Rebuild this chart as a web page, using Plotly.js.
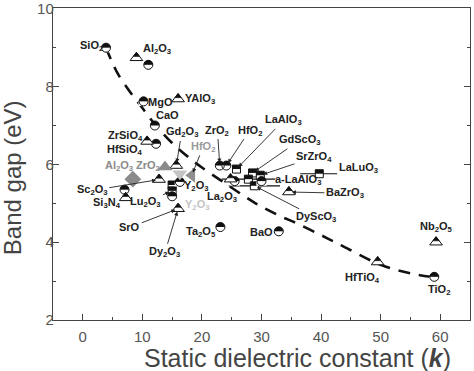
<!DOCTYPE html>
<html><head><meta charset="utf-8">
<script src="https://cdn.plot.ly/plotly-3.0.1.min.js"></script>
<style>html,body{margin:0;padding:0;background:#fff}#chart{width:474px;height:371px}</style>
</head><body><div id="chart"></div>
<script>
// Dashed guide curve
const curveK  = [3.9, 5, 6, 8, 10, 12, 15, 18, 20, 25, 29, 33, 36, 40, 43, 50, 55, 59];
const curveEg = [9.0, 8.6, 8.3, 7.85, 7.45, 7.05, 6.55, 6.15, 5.92, 5.4, 5.0, 4.68, 4.48, 4.18, 3.95, 3.42, 3.2, 3.1];

// Half-filled circles
const circK  = [3.9, 11.0, 10.2, 12.1, 12.3, 7.0, 15.0, 16.3, 23.0, 24.1, 25.5, 30.0, 23.1, 32.9, 59.0];
const circEg = [9.0, 8.56, 7.62, 7.0, 6.53, 5.35, 5.18, 5.55, 5.97, 5.97, 5.57, 5.57, 4.39, 4.28, 3.11];

// Half-filled triangles
const triK  = [9.0, 16.0, 10.8, 15.7, 12.8, 7.2, 16.0, 24.8, 34.6, 49.5, 59.3];
const triEg = [8.74, 7.68, 6.59, 5.97, 5.61, 5.14, 4.86, 5.62, 5.29, 3.49, 4.0];

// Half-filled squares with horizontal error bars
const sqK       = [15.0, 15.0, 25.8, 28.5, 29.8, 27.8, 28.8, 39.7];
const sqEg      = [5.47, 5.32, 5.88, 5.78, 5.72, 5.62, 5.45, 5.76];
const sqErrMinus= [0, 0, 0, 0, 0, 4.5, 4.3, 3.2];
const sqErrPlus = [0, 0, 0, 0, 0, 4.5, 4.3, 3.0];

// Grey reference markers
const greyK      = [8.4, 13.8, 18.3, 16.3];
const greyEg     = [5.62, 5.93, 5.72, 5.76];
const greySymbol = ['diamond', 'triangle-up', 'triangle-left', 'triangle-down'];
const greyColor  = ['#8a8a8a', '#8a8a8a', '#8f8f8f', '#c4c4c4'];

// Labels
const labText = ['SiO<sub>2</sub>','Al<sub>2</sub>O<sub>3</sub>','MgO','YAlO<sub>3</sub>','CaO','ZrSiO<sub>4</sub>','HfSiO<sub>4</sub>',
  'Gd<sub>2</sub>O<sub>3</sub>','HfO<sub>2</sub>','Al<sub>2</sub>O<sub>3</sub>','ZrO<sub>2</sub>','Sc<sub>2</sub>O<sub>3</sub>','Si<sub>3</sub>N<sub>4</sub>',
  'Lu<sub>2</sub>O<sub>3</sub>','SrO','Dy<sub>2</sub>O<sub>3</sub>','Y<sub>2</sub>O<sub>3</sub>','Y<sub>2</sub>O<sub>3</sub>','Ta<sub>2</sub>O<sub>5</sub>','BaO',
  'ZrO<sub>2</sub>','HfO<sub>2</sub>','LaAlO<sub>3</sub>','GdScO<sub>3</sub>','SrZrO<sub>4</sub>','a-LaAlO<sub>3</sub>','La<sub>2</sub>O<sub>3</sub>',
  'DyScO<sub>3</sub>','LaLuO<sub>3</sub>','BaZrO<sub>3</sub>','Nb<sub>2</sub>O<sub>5</sub>','HfTiO<sub>4</sub>','TiO<sub>2</sub>'];
const labX = [1.4, 12.4, 13.1, 19.6, 14.2, 7.1, 7.1, 16.6, 20.2, 6.1, 10.9, 1.6, 4.1, 10.6, 7.9, 13.8, 19.0, 19.2, 19.8, 30.0,
  22.6, 28.0, 33.7, 36.4, 38.8, 36.1, 23.4, 39.1, 46.3, 44.0, 59.3, 46.9, 59.8];
const labY = [9.05, 8.97, 7.6, 7.69, 7.26, 6.74, 6.38, 6.82, 6.45, 5.97, 5.97, 5.33, 5.0, 5.03, 4.38, 3.74, 5.44, 4.95, 4.26, 4.26,
  6.87, 6.87, 7.13, 6.62, 6.18, 5.59, 5.15, 4.64, 5.92, 5.26, 4.38, 3.08, 2.77];
const labTgtX = [null,null,null,null,null,null,null,15.7,18.3,null,null,12.8,null,15.0,16.0,16.0,null,null,null,null,
  23.0,24.1,25.8,28.5,29.8,null,null,28.8,null,34.6,null,null,null];
const labTgtY = [null,null,null,null,null,null,null,5.97,5.72,null,null,5.61,null,5.32,4.86,4.86,null,null,null,null,
  5.97,5.97,5.88,5.78,5.72,null,null,5.45,null,5.29,null,null,null];
const labColor = ['#222','#222','#222','#222','#222','#222','#222','#222','#9a9a9a','#8a8a8a','#8a8a8a','#222','#222',
  '#222','#222','#222','#222','#c4c4c4','#222','#222','#222','#222','#222','#222','#222','#222','#222','#222','#222','#222','#222','#222','#222'];

const xTitle = 'Static dielectric constant (<b><i>k</i></b>)';
const yTitle = 'Band gap (eV)';

const FONT = 'Liberation Sans, Arial, Helvetica, sans-serif';
const INK = '#111';

const traces = [
  {x: curveK, y: curveEg, mode: 'lines', line: {color: INK, width: 2.6, dash: '12px,9px', shape: 'spline'}, hoverinfo: 'skip'},
  // squares: white body + black top half
  {x: sqK, y: sqEg, mode: 'markers', marker: {symbol: 'square', size: 8, color: '#fff', line: {color: INK, width: 1}},
   error_x: {type: 'data', symmetric: false, array: sqErrPlus, arrayminus: sqErrMinus, width: 0, color: INK, thickness: 1.2}},
  {x: sqK, y: sqEg, mode: 'markers', marker: {symbol: 'line-ew-open', size: 5.8, angle: 180, standoff: 2,
     color: INK, line: {color: INK, width: 4}}},
  // circles: black disc, white lower half, outline
  {x: circK, y: circEg, mode: 'markers', marker: {symbol: 'circle', size: 9, color: INK, line: {width: 0}}},
  {x: circK, y: circEg, mode: 'markers', marker: {symbol: 'line-ew-open', size: 7.4, standoff: 2.3,
     color: '#fff', line: {color: '#fff', width: 4.6}}},
  {x: circK, y: circEg, mode: 'markers', marker: {symbol: 'circle-open', size: 9, color: INK, line: {color: INK, width: 1}}},
  // triangles: white body + black top half
  {x: triK, y: triEg, mode: 'markers', marker: {symbol: 'triangle-up', size: 11, color: '#fff', line: {color: INK, width: 1}}},
  {x: triK, y: triEg, mode: 'markers', marker: {symbol: 'triangle-down', size: 5.5, angle: 180, standoff: 2.75,
     color: INK, line: {color: INK, width: 0.6}}},
  {x: greyK, y: greyEg, mode: 'markers', marker: {symbol: greySymbol, size: 13, color: greyColor, line: {width: 0}}}
];

const annotations = labText.map((t, i) => {
  const a = {text: t, font: {family: FONT, size: 11, color: labColor[i], weight: 'bold'}, xref: 'x', yref: 'y'};
  if (labTgtX[i] === null) {
    a.x = labX[i]; a.y = labY[i]; a.showarrow = false;
  } else {
    a.x = labTgtX[i]; a.y = labTgtY[i]; a.ax = labX[i]; a.ay = labY[i];
    a.axref = 'x'; a.ayref = 'y'; a.showarrow = true; a.arrowhead = 2; a.arrowsize = 0.9;
    a.arrowwidth = 0.9; a.arrowcolor = '#222'; a.standoff = 3;
  }
  return a;
});
// axis titles placed as in the reference (offset from the axis centre)
annotations.push({text: xTitle, xref: 'paper', yref: 'paper', x: 0.5875, y: -0.122, xanchor: 'center', yanchor: 'middle',
  showarrow: false, font: {family: FONT, size: 25, color: '#444'}});
annotations.push({text: yTitle, xref: 'paper', yref: 'paper', x: -0.098, y: 0.455, xanchor: 'center', yanchor: 'middle',
  textangle: -90, showarrow: false, font: {family: FONT, size: 24, color: '#444'}});

const layout = {
  width: 474, height: 371,
  margin: {l: 53, r: 4, t: 8, b: 51},
  paper_bgcolor: '#fff', plot_bgcolor: '#fff',
  showlegend: false,
  font: {family: FONT, color: '#555'},
  xaxis: {range: [-5, 65], dtick: 10, tick0: 0, ticks: 'inside', ticklen: 6, tickcolor: '#444',
    minor: {dtick: 5, ticks: 'inside', ticklen: 3, tickcolor: '#444'},
    showline: true, linecolor: '#444', linewidth: 1.2, mirror: true, showgrid: false, zeroline: false,
    tickfont: {size: 15, color: '#555'}, ticklabelstandoff: 3},
  yaxis: {range: [2, 10.02], dtick: 2, tick0: 2, ticks: 'inside', ticklen: 6, tickcolor: '#444',
    minor: {dtick: 1, ticks: 'inside', ticklen: 3, tickcolor: '#444'},
    showline: true, linecolor: '#444', linewidth: 1.2, mirror: 'allticks', showgrid: false, zeroline: false,
    tickfont: {size: 15, color: '#555'}, ticklabelstandoff: -5},
  annotations: annotations
};

Plotly.newPlot('chart', traces, layout, {staticPlot: true, displayModeBar: false});
</script></body></html>
